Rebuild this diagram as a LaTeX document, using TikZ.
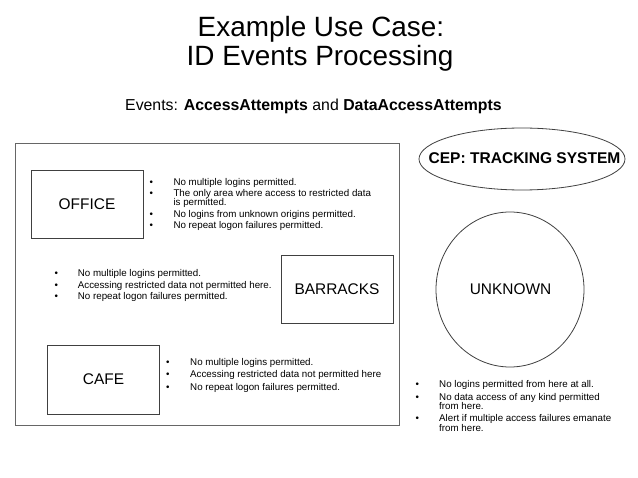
\documentclass[tikz,border=0pt]{standalone}
\usepackage{fontspec}
\setmainfont{Liberation Sans}
\usetikzlibrary{shapes.geometric}
\begin{document}
\begin{tikzpicture}[x=1bp,y=-1bp,
  box/.style={draw=black!75,line width=0.8bp},
  boxlabel/.style={font=\fontsize{15.5}{18}\selectfont,inner sep=0pt},
  bl/.style={font=\fontsize{9.8}{11}\selectfont,anchor=base west,inner sep=0pt},
  bul/.style={font=\fontsize{9.8}{11}\selectfont,anchor=base west,inner sep=0pt}]
\useasboundingbox[fill=white] (0,0) rectangle (638,478);
% title
\node[font=\fontsize{28}{30}\selectfont,anchor=base,inner sep=0pt] (t1) at (321,36.5) {Example Use Case:};
\node[font=\fontsize{28}{30}\selectfont,anchor=base,inner sep=0pt] (t2) at (320,66) {ID Events Processing};
\node[font=\fontsize{15.9}{18}\selectfont,anchor=base west,inner sep=0pt] (ev) at (125,110.5) {Events: \textbf{AccessAttempts} and \textbf{DataAccessAttempts}};
% frame
\draw[box,draw=black!60] (15.5,143.5) rectangle (399,425);
% boxes
\draw[box] (31.7,170) rectangle (143.3,238.3);
\node[boxlabel] (office) at (87,204) {OFFICE};
\draw[box] (281.7,255) rectangle (393.3,323.3);
\node[boxlabel] (barracks) at (337,289) {BARRACKS};
\draw[box] (47.7,345) rectangle (159.3,414);
\node[boxlabel] (cafe) at (103.5,379.5) {CAFE};
% ellipse and circle
\node[draw=black!75,line width=0.8bp,ellipse,minimum width=206bp,minimum height=62bp,inner sep=0pt] (cepe) at (522,159) {};
\node[font=\fontsize{15.6}{18}\selectfont\bfseries,inner sep=0pt] (cep) at (524.5,158.5) {CEP: TRACKING SYSTEM};
\node[draw=black!75,line width=0.8bp,ellipse,minimum width=148bp,minimum height=155bp,inner sep=0pt] (unkc) at (510,289.5) {};
\node[boxlabel] (unknown) at (510.5,289) {UNKNOWN};
% office bullets
\node[bul] (ob1) at (149.5,186) {•};
\node[bl] (o1) at (173.3,186) {No multiple logins permitted.};
\node[bul] (ob2) at (149.5,196.5) {•};
\node[bl] (o2) at (173.3,196.5) {The only area where access to restricted data};
\node[bl] (o2b) at (173.3,205.5) {is permitted.};
\node[bul] (ob3) at (149.5,217.5) {•};
\node[bl] (o3) at (173.3,217.5) {No logins from unknown origins permitted.};
\node[bul] (ob4) at (149.5,229) {•};
\node[bl] (o4) at (173.3,229) {No repeat logon failures permitted.};
% barracks bullets
\node[bul] (bb1) at (54.5,276.7) {•};
\node[bl] (b1) at (77.7,276.7) {No multiple logins permitted.};
\node[bul] (bb2) at (54.5,288.3) {•};
\node[bl] (b2) at (77.7,288.3) {Accessing restricted data not permitted here.};
\node[bul] (bb3) at (54.5,299.7) {•};
\node[bl] (b3) at (77.7,299.7) {No repeat logon failures permitted.};
% cafe bullets
\node[bul] (cb1) at (166,365) {•};
\node[bl] (c1) at (190,365) {No multiple logins permitted.};
\node[bul] (cb2) at (166,377.5) {•};
\node[bl] (c2) at (190,377.5) {Accessing restricted data not permitted here};
\node[bul] (cb3) at (166,390) {•};
\node[bl] (c3) at (190,390) {No repeat logon failures permitted.};
% unknown bullets
\node[bul] (ub1) at (415.5,387.5) {•};
\node[bl] (u1) at (439,387.5) {No logins permitted from here at all.};
\node[bul] (ub2) at (415.5,400) {•};
\node[bl] (u2) at (439,400) {No data access of any kind permitted};
\node[bl] (u2b) at (439,409.5) {from here.};
\node[bul] (ub3) at (415.5,421.5) {•};
\node[bl] (u3) at (439,421.5) {Alert if multiple access failures emanate};
\node[bl] (u3b) at (439,431) {from here.};
\end{tikzpicture}
\end{document}
